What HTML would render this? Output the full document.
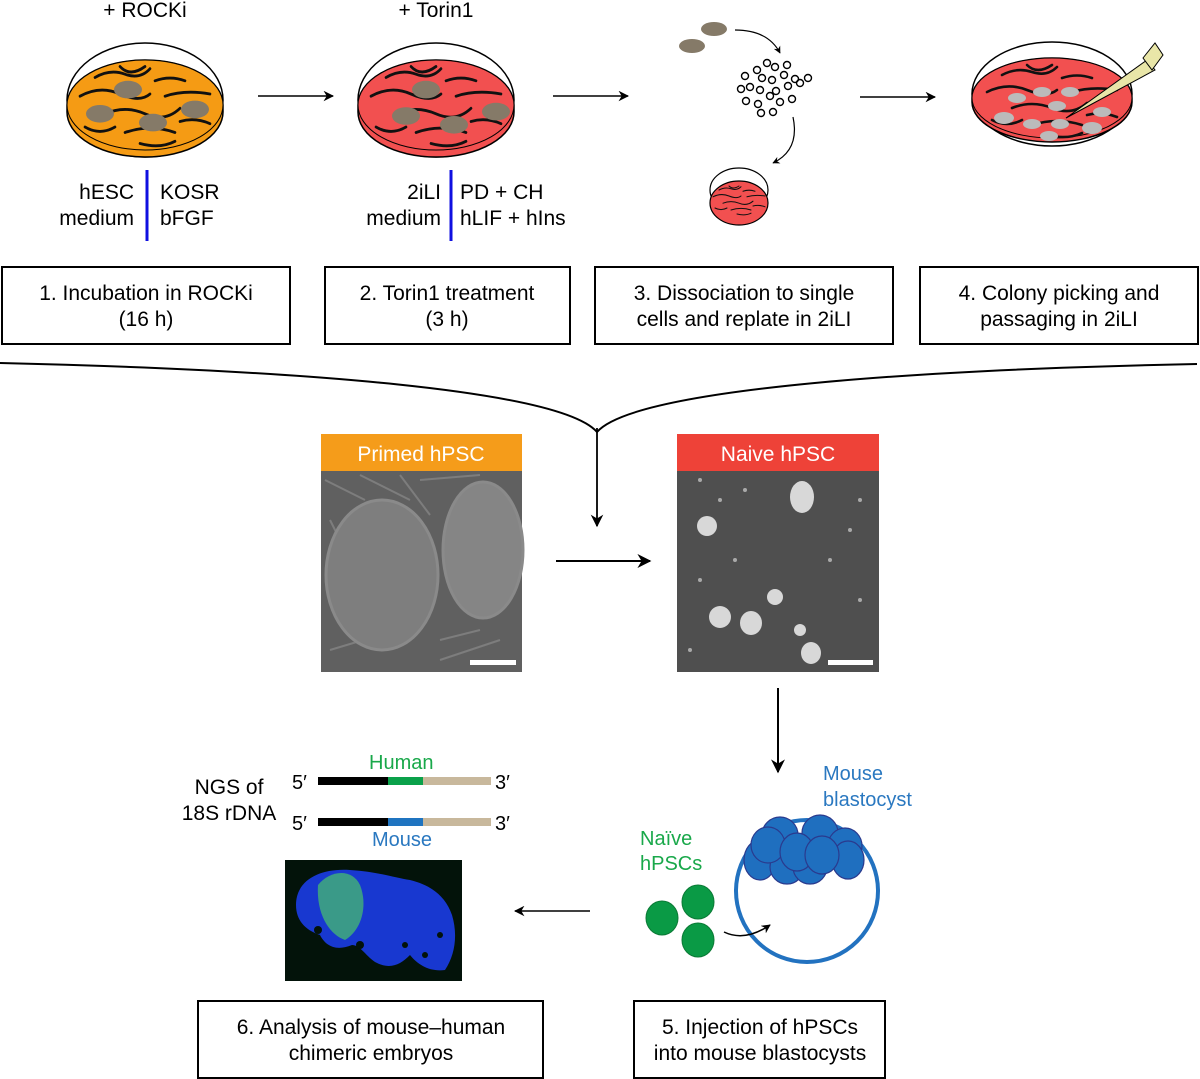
<!DOCTYPE html>
<html><head><meta charset="utf-8">
<style>
html,body{margin:0;padding:0;background:#fff;}
svg{display:block;}
text{font-family:"Liberation Sans",Arial,sans-serif;}
</style></head>
<body>
<svg width="1200" height="1079" viewBox="0 0 1200 1079" xmlns="http://www.w3.org/2000/svg">
<defs>
<marker id="ah" viewBox="0 0 10 10" refX="9" refY="5" markerWidth="7" markerHeight="7" orient="auto-start-reverse"><path d="M0,0 L10,5 L0,10 L3,5 z" fill="#000"/></marker>
<marker id="ahs" viewBox="0 0 10 10" refX="9" refY="5" markerWidth="6" markerHeight="6" orient="auto"><path d="M0,0 L10,5 L0,10 L3,5 z" fill="#000"/></marker>
<g id="worms" fill="none" stroke="#111" stroke-width="2.6" stroke-linecap="round">
<path d="M-50,-25 q15,-8 30,-3 t25,-5"/>
<path d="M-65,-8 q20,-10 40,-2 t30,0"/>
<path d="M10,-22 q15,-5 30,0"/>
<path d="M-40,8 q20,-8 40,0 t35,-5"/>
<path d="M20,-8 q20,-6 45,-2"/>
<path d="M-60,20 q15,8 30,0"/>
<path d="M-20,25 q25,-8 50,0"/>
<path d="M35,15 q15,-4 30,2"/>
<path d="M-5,35 q20,5 35,-2"/>
<path d="M-25,-35 q10,10 25,0"/>
</g>
</defs>

<!-- Dish 1 -->
<text x="145" y="17" font-size="21" text-anchor="middle">+ ROCKi</text>
<ellipse cx="145" cy="100" rx="78" ry="57" fill="#fff" stroke="#000" stroke-width="1.5"/>
<path d="M67,112 A78,45 0 0 0 223,112 L223,105 A78,45 0 0 0 67,105 Z" fill="#f59b14" stroke="#000" stroke-width="1.5"/>
<ellipse cx="145" cy="105" rx="78" ry="45" fill="#f59b14" stroke="#000" stroke-width="1"/>
<g transform="translate(145,105) scale(1,1.1)"><use href="#worms"/>
<ellipse cx="-17" cy="-14" rx="14" ry="8" fill="#857a68"/><ellipse cx="-45" cy="8" rx="14" ry="8" fill="#857a68"/><ellipse cx="8" cy="16" rx="14" ry="8" fill="#857a68"/><ellipse cx="50" cy="4" rx="14" ry="8" fill="#857a68"/></g>
<text x="134" y="199" font-size="21" text-anchor="end">hESC</text>
<text x="134" y="225" font-size="21" text-anchor="end">medium</text>
<line x1="147" y1="170" x2="147" y2="241" stroke="#1010e0" stroke-width="3"/>
<text x="160" y="199" font-size="21">KOSR</text>
<text x="160" y="225" font-size="21">bFGF</text>

<line x1="258" y1="96" x2="333" y2="96" stroke="#000" stroke-width="1.5" marker-end="url(#ah)"/>

<!-- Dish 2 -->
<text x="436" y="17" font-size="21" text-anchor="middle">+ Torin1</text>
<ellipse cx="436" cy="100" rx="78" ry="57" fill="#fff" stroke="#000" stroke-width="1.5"/>
<path d="M358,112 A78,45 0 0 0 514,112 L514,105 A78,45 0 0 0 358,105 Z" fill="#f25050" stroke="#000" stroke-width="1.5"/>
<ellipse cx="436" cy="105" rx="78" ry="45" fill="#f25050" stroke="#000" stroke-width="1"/>
<g transform="translate(436,105) scale(1,1.1)"><use href="#worms"/>
<ellipse cx="-10" cy="-14" rx="14" ry="8" fill="#857a68"/><ellipse cx="-30" cy="10" rx="14" ry="8" fill="#857a68"/><ellipse cx="18" cy="18" rx="14" ry="8" fill="#857a68"/><ellipse cx="60" cy="6" rx="14" ry="8" fill="#857a68"/></g>
<text x="441" y="199" font-size="21" text-anchor="end">2iLI</text>
<text x="441" y="225" font-size="21" text-anchor="end">medium</text>
<line x1="451" y1="170" x2="451" y2="241" stroke="#1010e0" stroke-width="3"/>
<text x="460" y="199" font-size="21">PD + CH</text>
<text x="460" y="225" font-size="21">hLIF + hIns</text>

<line x1="553" y1="96" x2="628" y2="96" stroke="#000" stroke-width="1.5" marker-end="url(#ah)"/>

<!-- Dish 3 dissociation -->
<ellipse cx="714" cy="29" rx="13" ry="7" fill="#857a68"/>
<ellipse cx="692" cy="46" rx="13" ry="7" fill="#857a68"/>
<path d="M735,30 Q768,30 780,53" fill="none" stroke="#000" stroke-width="1.2" marker-end="url(#ahs)"/>
<g fill="none" stroke="#000" stroke-width="1.4">
<circle cx="767" cy="63" r="3.5"/><circle cx="775" cy="67" r="3.5"/><circle cx="787" cy="65" r="3.5"/><circle cx="757" cy="70" r="3.5"/><circle cx="745" cy="76" r="3.5"/><circle cx="762" cy="78" r="3.5"/><circle cx="772" cy="80" r="3.5"/><circle cx="784" cy="75" r="3.5"/><circle cx="795" cy="79" r="3.5"/><circle cx="750" cy="87" r="3.5"/><circle cx="760" cy="90" r="3.5"/><circle cx="776" cy="91" r="3.5"/><circle cx="788" cy="86" r="3.5"/><circle cx="800" cy="83" r="3.5"/><circle cx="770" cy="96" r="3.5"/><circle cx="746" cy="101" r="3.5"/><circle cx="758" cy="104" r="3.5"/><circle cx="780" cy="102" r="3.5"/><circle cx="792" cy="99" r="3.5"/><circle cx="761" cy="113" r="3.5"/><circle cx="773" cy="112" r="3.5"/><circle cx="741" cy="89" r="3.5"/><circle cx="808" cy="78" r="3.5"/>
</g>
<path d="M793,117 Q800,150 773,163" fill="none" stroke="#000" stroke-width="1.2" marker-end="url(#ahs)"/>
<ellipse cx="739" cy="190" rx="29" ry="22" fill="#fff" stroke="#000" stroke-width="1.2"/>
<ellipse cx="739" cy="203" rx="29" ry="22" fill="#f25050" stroke="#000" stroke-width="1.2"/>
<g transform="translate(739,200) scale(0.4)"><use href="#worms"/></g>

<line x1="860" y1="97" x2="935" y2="97" stroke="#000" stroke-width="1.5" marker-end="url(#ah)"/>

<!-- Dish 4 -->
<ellipse cx="1052" cy="94" rx="80" ry="52" fill="#fff" stroke="#000" stroke-width="1.5"/>
<path d="M972,102 A80,40 0 0 0 1132,102 L1132,98 A80,40 0 0 0 972,98 Z" fill="#f25050" stroke="#000" stroke-width="1.5"/>
<ellipse cx="1052" cy="98" rx="80" ry="40" fill="#f25050" stroke="#000" stroke-width="1"/>
<g transform="translate(1052,100)"><use href="#worms"/>
<g fill="#bbb"><ellipse cx="-10" cy="-8" rx="9" ry="5"/><ellipse cx="-35" cy="-2" rx="9" ry="5"/><ellipse cx="5" cy="6" rx="9" ry="5"/><ellipse cx="-48" cy="18" rx="10" ry="6"/><ellipse cx="-20" cy="24" rx="9" ry="5"/><ellipse cx="8" cy="24" rx="9" ry="5"/><ellipse cx="50" cy="12" rx="9" ry="5"/><ellipse cx="40" cy="28" rx="10" ry="6"/><ellipse cx="-3" cy="36" rx="9" ry="5"/><ellipse cx="18" cy="-8" rx="9" ry="5"/></g></g>
<polygon points="1066,118 1147,60 1155,70" fill="#e9e6a8" stroke="#000" stroke-width="1"/>
<polygon points="1143,58 1155,43 1163,55 1152,70" fill="#e9e6a8" stroke="#000" stroke-width="1"/>

<!-- Step boxes -->
<g fill="#fff" stroke="#000" stroke-width="2">
<rect x="2" y="267" width="288" height="77"/>
<rect x="325" y="267" width="245" height="77"/>
<rect x="595" y="267" width="298" height="77"/>
<rect x="920" y="267" width="278" height="77"/>
<rect x="198" y="1001" width="345" height="77"/>
<rect x="634" y="1001" width="251" height="77"/>
</g>
<g font-size="21" text-anchor="middle">
<text x="146" y="300">1. Incubation in ROCKi</text><text x="146" y="326">(16 h)</text>
<text x="447" y="300">2. Torin1 treatment</text><text x="447" y="326">(3 h)</text>
<text x="744" y="300">3. Dissociation to single</text><text x="744" y="326">cells and replate in 2iLI</text>
<text x="1059" y="300">4. Colony picking and</text><text x="1059" y="326">passaging in 2iLI</text>
<text x="371" y="1034">6. Analysis of mouse–human</text><text x="371" y="1060">chimeric embryos</text>
<text x="760" y="1034">5. Injection of hPSCs</text><text x="760" y="1060">into mouse blastocysts</text>
</g>

<!-- Brace -->
<path d="M0,363 C300,370 560,390 597,432 C634,390 900,370 1197,364" fill="none" stroke="#000" stroke-width="2"/>
<line x1="597" y1="428" x2="597" y2="526" stroke="#000" stroke-width="1.8" marker-end="url(#ah)"/>

<!-- Primed panel -->
<rect x="321" y="434" width="201" height="37" fill="#f59c1a"/>
<text x="421" y="461" font-size="21" fill="#fff" text-anchor="middle">Primed hPSC</text>
<rect x="321" y="471" width="201" height="201" fill="#606060"/>
<g fill="none" stroke="#858585" stroke-width="2" opacity="0.8">
<path d="M325,480 l40,20 M360,475 l50,25 M420,480 l60,-5 M330,650 l50,-15 M440,660 l60,-20 M495,500 l20,40 M400,475 l30,40 M330,520 l20,40 M440,640 l40,-10"/>
</g>
<ellipse cx="382" cy="575" rx="56" ry="75" fill="#7e7e7e" stroke="#8a8a8a" stroke-width="3"/>
<ellipse cx="483" cy="550" rx="40" ry="68" fill="#858585" stroke="#8a8a8a" stroke-width="3"/>
<rect x="470" y="660" width="46" height="5" fill="#fff"/>

<line x1="556" y1="561" x2="650" y2="561" stroke="#000" stroke-width="2" marker-end="url(#ah)"/>

<!-- Naive panel -->
<rect x="677" y="434" width="202" height="37" fill="#ee4238"/>
<text x="778" y="461" font-size="21" fill="#fff" text-anchor="middle">Naive hPSC</text>
<rect x="677" y="471" width="202" height="201" fill="#4f4f4f"/>
<g fill="#d8d8d8">
<ellipse cx="802" cy="497" rx="12" ry="16"/><ellipse cx="707" cy="526" rx="10" ry="10"/><ellipse cx="775" cy="597" rx="8" ry="8"/>
<ellipse cx="720" cy="617" rx="11" ry="11"/><ellipse cx="751" cy="623" rx="11" ry="12"/><ellipse cx="811" cy="653" rx="10" ry="11"/><ellipse cx="800" cy="630" rx="6" ry="6"/>
</g>
<g fill="#aaa"><circle cx="700" cy="480" r="2"/><circle cx="720" cy="500" r="2"/><circle cx="745" cy="490" r="2"/><circle cx="860" cy="500" r="2"/><circle cx="830" cy="560" r="2"/><circle cx="700" cy="580" r="2"/><circle cx="860" cy="600" r="2"/><circle cx="735" cy="560" r="2"/><circle cx="690" cy="650" r="2"/><circle cx="850" cy="530" r="2"/></g>
<rect x="828" y="660" width="45" height="5" fill="#fff"/>

<line x1="778" y1="688" x2="778" y2="772" stroke="#000" stroke-width="2" marker-end="url(#ah)"/>

<!-- Blastocyst -->
<text x="823" y="780" font-size="20" fill="#2a78c0">Mouse</text>
<text x="823" y="806" font-size="20" fill="#2a78c0">blastocyst</text>
<circle cx="807" cy="891" r="71" fill="#fff" stroke="#2272c0" stroke-width="4"/>
<g fill="#1f6fbf" stroke="#2a3a8e" stroke-width="1.2">
<ellipse cx="780" cy="835" rx="18" ry="18"/><ellipse cx="820" cy="833" rx="18" ry="18"/><ellipse cx="845" cy="846" rx="17" ry="18"/>
<ellipse cx="760" cy="860" rx="16" ry="20"/><ellipse cx="787" cy="867" rx="17" ry="17"/><ellipse cx="810" cy="867" rx="17" ry="17"/><ellipse cx="848" cy="860" rx="16" ry="19"/>
<ellipse cx="768" cy="845" rx="17" ry="18"/><ellipse cx="797" cy="852" rx="17" ry="19"/><ellipse cx="822" cy="855" rx="17" ry="19"/>
</g>
<text x="640" y="845" font-size="20" fill="#19a84a">Naïve</text>
<text x="640" y="870" font-size="20" fill="#19a84a">hPSCs</text>
<g fill="#0a9a45" stroke="#0a7a35" stroke-width="1"><ellipse cx="662" cy="918" rx="16" ry="17"/><ellipse cx="698" cy="902" rx="16" ry="17"/><ellipse cx="698" cy="940" rx="16" ry="17"/></g>
<path d="M724,932 Q745,942 770,925" fill="none" stroke="#000" stroke-width="1.5" marker-end="url(#ahs)"/>

<line x1="590" y1="911" x2="515" y2="911" stroke="#000" stroke-width="1.5" marker-end="url(#ah)"/>

<!-- NGS -->
<text x="229" y="794" font-size="21" text-anchor="middle">NGS of</text>
<text x="229" y="820" font-size="21" text-anchor="middle">18S rDNA</text>
<text x="369" y="769" font-size="20" fill="#19a84a">Human</text>
<text x="292" y="789" font-size="20">5′</text>
<rect x="318" y="777" width="70" height="8" fill="#000"/><rect x="388" y="777" width="35" height="8" fill="#0aa14a"/><rect x="423" y="777" width="68" height="8" fill="#c8b89c"/>
<text x="495" y="789" font-size="20">3′</text>
<text x="292" y="830" font-size="20">5′</text>
<rect x="318" y="818" width="70" height="8" fill="#000"/><rect x="388" y="818" width="35" height="8" fill="#1f74c0"/><rect x="423" y="818" width="68" height="8" fill="#c8b89c"/>
<text x="495" y="830" font-size="20">3′</text>
<text x="372" y="846" font-size="20" fill="#2a78c0">Mouse</text>

<!-- Embryo -->
<rect x="285" y="860" width="177" height="121" fill="#03130a"/>
<path d="M296,905 C296,880 320,868 350,870 C380,872 395,878 410,880 C430,885 445,895 452,915 C458,935 455,955 445,970 C430,972 418,965 410,955 C400,965 390,970 375,962 C365,955 360,945 352,945 C335,952 325,945 320,935 C305,930 296,920 296,905 Z" fill="#1838d0"/>
<path d="M318,885 C330,870 352,868 360,885 C368,905 362,930 345,940 C330,935 316,915 318,885 Z" fill="#3a9a88"/>
<g fill="#03130a"><circle cx="318" cy="930" r="4"/><circle cx="360" cy="945" r="4"/><circle cx="405" cy="945" r="3"/><circle cx="425" cy="955" r="3"/><circle cx="440" cy="935" r="3"/></g>
</svg>
</body></html>
